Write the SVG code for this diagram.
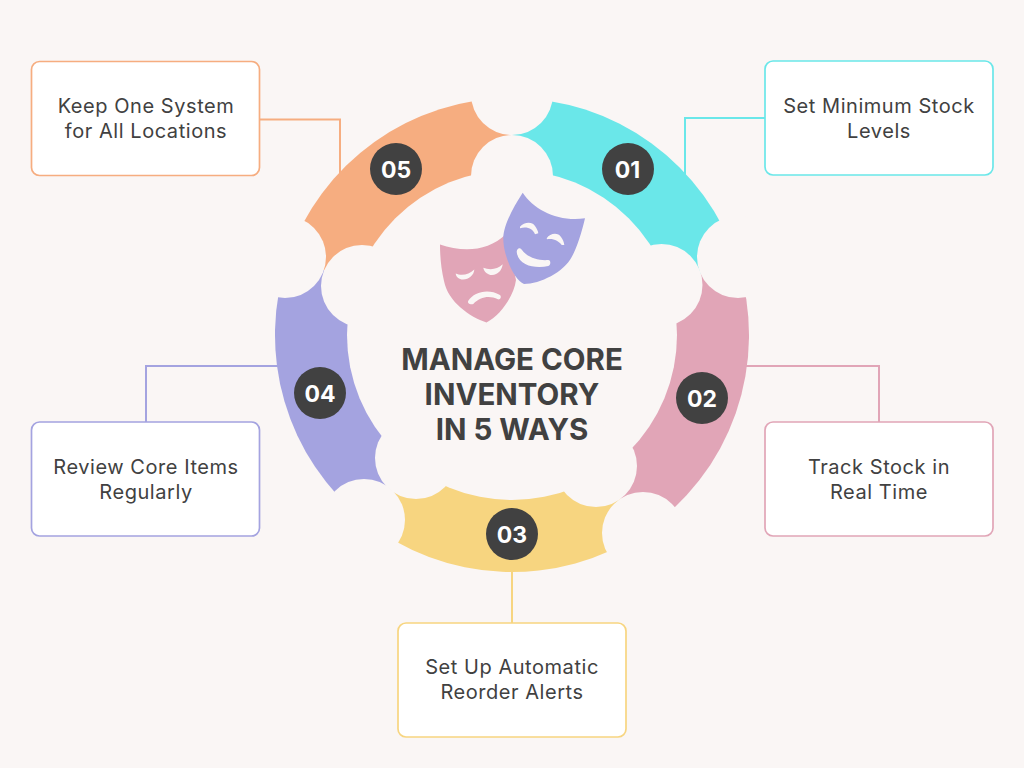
<svg xmlns="http://www.w3.org/2000/svg" width="1024" height="768" viewBox="0 0 1024 768">
<style>
.bg{fill:#FAF6F5}
.box{fill:#FFFFFF;stroke-width:1.700}
.lbl{font-family:"Inter","Liberation Sans",sans-serif;font-size:20px;fill:#414141;text-anchor:middle;letter-spacing:.55px}
.num{font-family:"Inter","Liberation Sans",sans-serif;font-size:23px;font-weight:700;fill:#FFFFFF;text-anchor:middle}
.title{font-family:"Inter","Liberation Sans",sans-serif;font-size:29.500px;font-weight:700;fill:#414141;text-anchor:middle}
.dot{fill:#414141}
.wire{fill:none;stroke-width:2}
</style>
<rect width="1024" height="768" class="bg"/>
<g id="connectors">
<path class="wire" stroke="#F6AD80" d="M260 119.500H340V180"/>
<path class="wire" stroke="#6AE7E9" d="M765 118H685V180"/>
<path class="wire" stroke="#E1A5B7" d="M745 366H879V422"/>
<path class="wire" stroke="#F7D580" d="M512 565V623"/>
<path class="wire" stroke="#A4A3E0" d="M280 366H146V422"/>
</g>
<g id="ring">
<path fill="#6AE7E9" d="M512 335L512 98A237 237 0 0 1 737.400 261.800Z"/>
<path fill="#E1A5B7" d="M512 335L737.400 261.800A237 237 0 0 1 642.800 532.700Z"/>
<path fill="#F7D580" d="M512 335L642.800 532.700A237 237 0 0 1 364.500 520.500Z"/>
<path fill="#A4A3E0" d="M512 335L364.500 520.500A237 237 0 0 1 287.900 257.800Z"/>
<path fill="#F6AD80" d="M512 335L287.900 257.800A237 237 0 0 1 512 98Z"/>
<circle class="bg" cx="512" cy="335" r="165"/>
<circle class="bg" cx="512" cy="94" r="41"/>
<circle class="bg" cx="512" cy="176" r="41"/>
<circle class="bg" cx="738" cy="257" r="41"/>
<circle class="bg" cx="661.500" cy="285" r="41"/>
<circle class="bg" cx="643" cy="533" r="41"/>
<circle class="bg" cx="596" cy="466" r="41"/>
<circle class="bg" cx="364" cy="520" r="41"/>
<circle class="bg" cx="416" cy="458" r="41"/>
<circle class="bg" cx="285" cy="257" r="41"/>
<circle class="bg" cx="362" cy="286" r="41"/>
</g>
<g id="masks">
<path fill="#E1A5B7" d="M440 244.500C462 252 488 252 506 234L516 280C514 296 500 316 486.500 322.500C470 317 448 302 444 281C441 268 440 256 440 244.500Z"/>
<path fill="#FAF6F5" d="M455.700 273.500C461 276 469 275 474.300 269.500C474 275 469 279.500 463 279.500C459 279.500 456 277 455.700 273.500ZM483.300 267.700C489 270 497 270 502.700 264.300C502 270 498 275 492 275C488 275 484 272 483.300 267.700ZM468.300 300.700C474 292 488 288 500 295C502 297 500 300 498 299.300C489 295 480 297 473.300 304C470 305 467 303 468.300 300.700Z"/>
<path fill="#A4A3E0" d="M522.700 192.700C534 210 558 222 585 218.300C582 232 576 250 571.700 257C564 272 540 284 524 284C514 280 503 255 503.300 238C503.500 225 514 206 522.700 192.700Z"/>
<path fill="#FAF6F5" d="M520 226.700C524 222 532 221 535 226C537 229 538 231 538.300 233.300L535 234.300C533 229 527 226 520 228.300ZM546.700 238.300C550 233 558 232 561 237C563 240 564 242 564.300 245L561.700 245C559 241 553 238 547 239.300ZM516.700 251.700C517 248 520 247 522 250C527 257 538 261 548.300 260C551 260 551 265 548.300 266C536 269 518 266 516.700 251.700Z"/>
</g>
<g id="title">
<text class="title" x="512" y="370">MANAGE CORE</text>
<text class="title" x="512" y="405">INVENTORY</text>
<text class="title" x="512" y="440">IN 5 WAYS</text>
</g>
<g id="step-01">
<circle class="dot" cx="628" cy="169" r="26"/><text class="num" x="627.500" y="177.500">01</text>
<rect class="box" stroke="#6AE7E9" x="765" y="61" width="228" height="114" rx="8"/>
<text class="lbl" x="879" y="113">Set Minimum Stock</text><text class="lbl" x="879" y="138">Levels</text>
</g>
<g id="step-02">
<circle class="dot" cx="702" cy="398" r="26"/><text class="num" x="702" y="406.500">02</text>
<rect class="box" stroke="#E1A5B7" x="765" y="422" width="228" height="114" rx="8"/>
<text class="lbl" x="879" y="474">Track Stock in</text><text class="lbl" x="879" y="499">Real Time</text>
</g>
<g id="step-03">
<circle class="dot" cx="512" cy="534" r="26"/><text class="num" x="512" y="542.500">03</text>
<rect class="box" stroke="#F7D580" x="398" y="623" width="228" height="114" rx="8"/>
<text class="lbl" x="512" y="674">Set Up Automatic</text><text class="lbl" x="512" y="699">Reorder Alerts</text>
</g>
<g id="step-04">
<circle class="dot" cx="320" cy="393" r="26"/><text class="num" x="320" y="401.500">04</text>
<rect class="box" stroke="#A4A3E0" x="31.500" y="422" width="228" height="114" rx="8"/>
<text class="lbl" x="146" y="474">Review Core Items</text><text class="lbl" x="146" y="499">Regularly</text>
</g>
<g id="step-05">
<circle class="dot" cx="396" cy="169" r="26"/><text class="num" x="396" y="177.500">05</text>
<rect class="box" stroke="#F6AD80" x="31.500" y="61.500" width="228" height="114" rx="8"/>
<text class="lbl" x="146" y="113">Keep One System</text><text class="lbl" x="146" y="138">for All Locations</text>
</g>
</svg>
